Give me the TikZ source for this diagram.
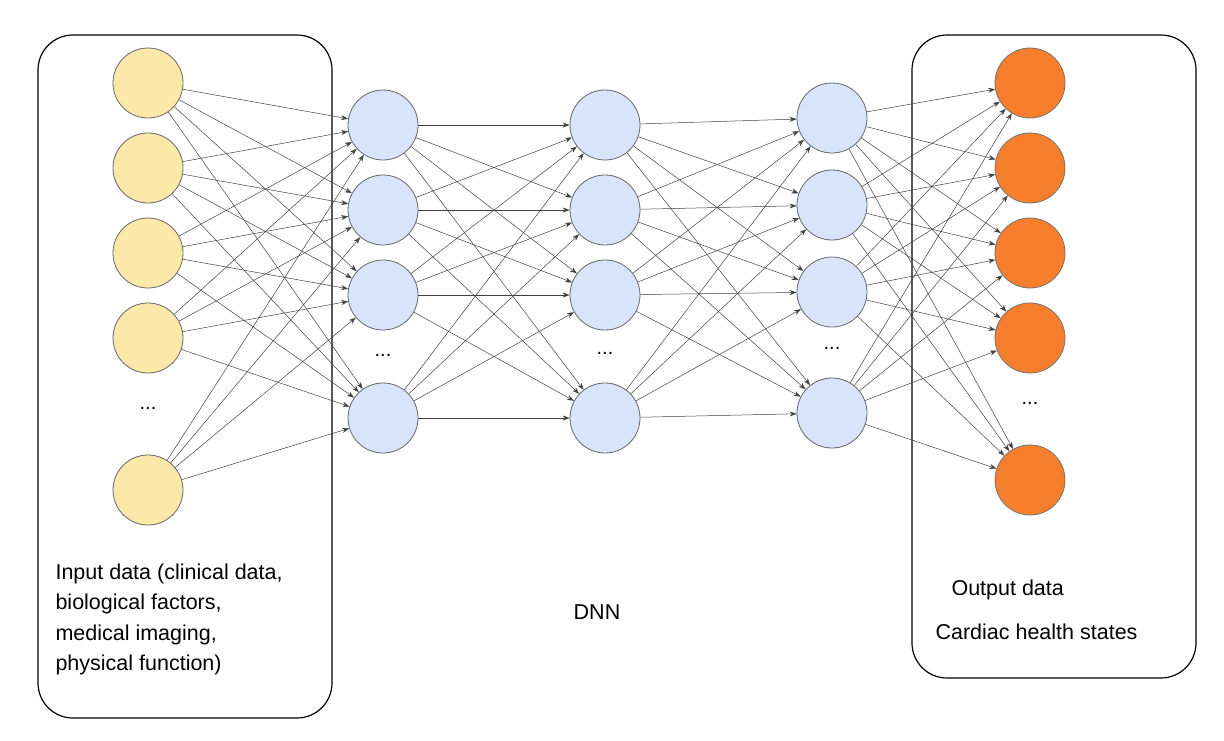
\documentclass[tikz,border=0pt]{standalone}
\usepackage{fontspec}
\setmainfont{Liberation Sans}
\usetikzlibrary{arrows.meta}
\definecolor{inyellow}{HTML}{FCE8A8}
\definecolor{hidblue}{HTML}{D7E4FA}
\definecolor{outorange}{HTML}{F77E2D}
\tikzset{
  neuron/.style={circle, draw=black!60, line width=0.8pt, minimum size=70pt, inner sep=0pt},
  inp/.style={neuron, fill=inyellow},
  hid/.style={neuron, fill=hidblue},
  outp/.style={neuron, fill=outorange, draw=black!55},
  conn/.style={-{Stealth[length=7pt,width=5pt]}, black!75, line width=0.5pt},
  layerbox/.style={draw, line width=1.2pt, rounded corners=35pt},
  dots/.style={font=\fontsize{20}{24}\selectfont}
}
\begin{document}
\begin{tikzpicture}[x=1pt, y=-1pt]
  \useasboundingbox (0,0) rectangle (1224,740);

  % BOXES
  \draw[layerbox] (38,35) rectangle (332,718);
  \draw[layerbox] (912,35) rectangle (1196,678);

  % INPUT LAYER
  \foreach \y [count=\i] in {83,168,253,338,490}
    \node[inp] (i\i) at (148,\y) {};
  \node[dots] at (148,408) {...};

  % HIDDEN LAYERS
  \foreach \y [count=\i] in {125,210,295,418}
    \node[hid] (a\i) at (383,\y) {};
  \node[dots] at (383,355) {...};
  \foreach \y [count=\i] in {125,210,295,418}
    \node[hid] (b\i) at (605,\y) {};
  \node[dots] at (605,353) {...};
  \foreach \y [count=\i] in {118,205,292,413}
    \node[hid] (c\i) at (832,\y) {};
  \node[dots] at (832,348) {...};

  % OUTPUT LAYER
  \foreach \y [count=\i] in {83,168,253,338,480}
    \node[outp] (o\i) at (1030,\y) {};
  \node[dots] at (1030,403) {...};

  % CONNECTIONS
  \foreach \i in {1,...,5}
    \foreach \j in {1,...,4}
      \draw[conn] (i\i) -- (a\j);
  \foreach \i in {1,...,4}
    \foreach \j in {1,...,4}
      \draw[conn] (a\i) -- (b\j);
  \foreach \i in {1,...,4}
    \foreach \j in {1,...,4}
      \draw[conn] (b\i) -- (c\j);
  \foreach \i in {1,...,4}
    \foreach \j in {1,...,5}
      \draw[conn] (c\i) -- (o\j);

  % LABELS
  \node[anchor=north west, align=left, font=\fontsize{21.5}{30.5}\selectfont] (intext) at (52,560)
    {Input data (clinical data,\\biological factors,\\medical imaging,\\physical function)};
  \node[font=\fontsize{21.5}{24}\selectfont] (dnn) at (597,612) {DNN};
  \node[anchor=west, font=\fontsize{21.5}{24}\selectfont] (outtext) at (948,590) {Output data};
  \node[anchor=west, font=\fontsize{21.5}{24}\selectfont] (cardiac) at (932,632) {Cardiac health states};
\end{tikzpicture}
\end{document}
